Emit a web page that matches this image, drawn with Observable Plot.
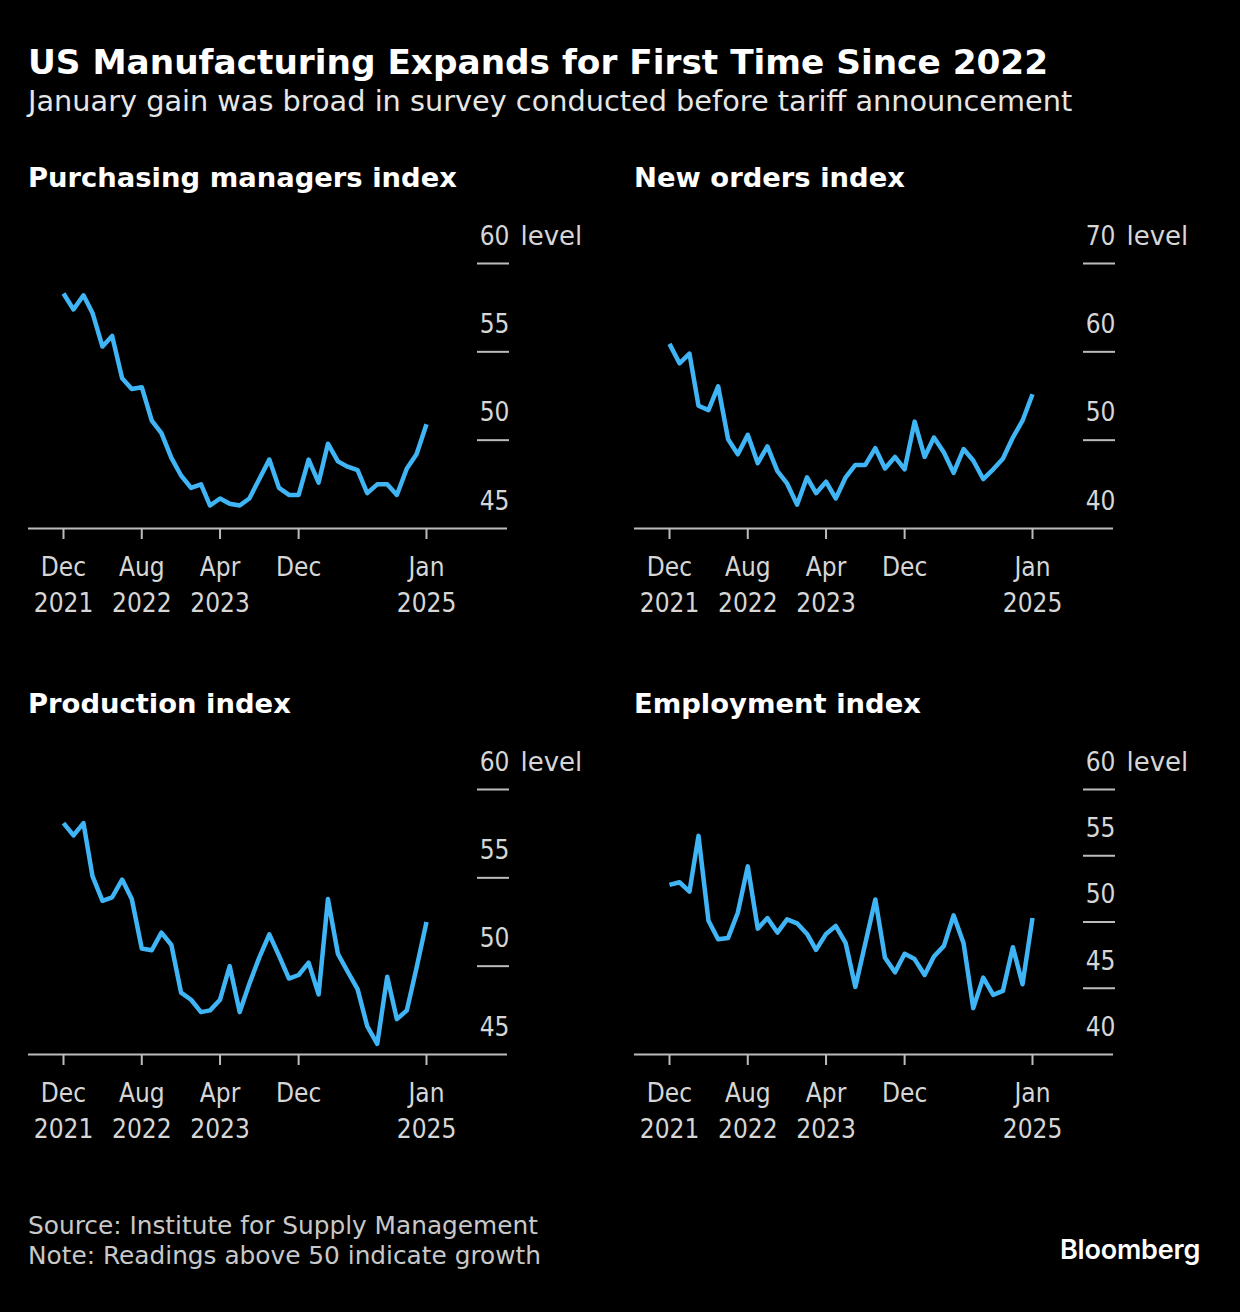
<!DOCTYPE html>
<html>
<head>
<meta charset="utf-8">
<script src="https://cdn.jsdelivr.net/npm/d3@7"></script>
<script src="https://cdn.jsdelivr.net/npm/@observablehq/plot@0.6"></script>
<style>
  html, body { margin: 0; padding: 0; background: #000; }
  #root { position: relative; width: 1240px; height: 1312px; background: #000; overflow: hidden; }
  .t { position: absolute; white-space: nowrap; line-height: 1; font-family: "DejaVu Sans", sans-serif; }
  #title { left: 28px; top: 45px; font-size: 34.3px; font-weight: bold; color: #ffffff; }
  #subtitle { left: 28px; top: 87px; font-size: 28.75px; color: #e6e6e6; }
  .ptitle { font-size: 27.4px; font-weight: bold; color: #ffffff; }
  .foot { font-size: 24.8px; color: #c8c8c8; left: 28px; }
  #logo { left: 1060px; top: 1236px; font-family: Inter, "DejaVu Sans", sans-serif; font-weight: 600; font-size: 27px; color: #ffffff; letter-spacing: -0.2px; }
  .panel { position: absolute; }
</style>
</head>
<body>
<div id="root">
  <div class="t" id="title">US Manufacturing Expands for First Time Since 2022</div>
  <div class="t" id="subtitle">January gain was broad in survey conducted before tariff announcement</div>
  <div class="t foot" style="top:1214px">Source: Institute for Supply Management</div>
  <div class="t foot" style="top:1244px">Note: Readings above 50 indicate growth</div>
  <div class="t" id="logo">Bloomberg</div>
</div>
<script>
// ---- Data ----
const months = d3.utcMonths(new Date(Date.UTC(2021, 11, 1)), new Date(Date.UTC(2025, 1, 1))); // Dec 2021 .. Jan 2025

const pmi = [58.3, 57.4, 58.2, 57.2, 55.3, 55.9, 53.5, 52.9, 53.0, 51.1, 50.4, 49.0, 48.0, 47.3, 47.5, 46.3, 46.7, 46.4, 46.3, 46.7, 47.8, 48.9, 47.3, 46.9, 46.9, 48.9, 47.6, 49.8, 48.8, 48.5, 48.3, 47.0, 47.5, 47.5, 46.9, 48.4, 49.2, 50.9];
const newOrders = [60.9, 58.7, 59.8, 53.9, 53.4, 56.1, 50.1, 48.4, 50.6, 47.4, 49.3, 46.5, 45.1, 42.7, 45.8, 44.0, 45.3, 43.4, 45.8, 47.2, 47.2, 49.1, 46.8, 48.1, 46.7, 52.1, 48.1, 50.3, 48.6, 46.3, 49.0, 47.7, 45.6, 46.7, 47.9, 50.3, 52.2, 55.2];
const production = [58.1, 57.4, 58.1, 55.1, 53.7, 53.9, 54.9, 53.8, 51.0, 50.9, 51.9, 51.2, 48.5, 48.1, 47.4, 47.5, 48.1, 50.0, 47.4, 49.0, 50.5, 51.8, 50.6, 49.3, 49.5, 50.2, 48.4, 53.8, 50.7, 49.7, 48.7, 46.6, 45.6, 49.4, 47.0, 47.5, 49.9, 52.5];
const employment = [52.8, 53.0, 52.3, 56.5, 50.1, 48.7, 48.8, 50.7, 54.2, 49.5, 50.3, 49.2, 50.2, 49.9, 49.1, 47.9, 49.1, 49.7, 48.4, 45.1, 48.4, 51.7, 47.3, 46.2, 47.6, 47.2, 46.0, 47.4, 48.2, 50.5, 48.4, 43.5, 45.8, 44.5, 44.8, 48.1, 45.3, 50.3];

const panelTitles = ["Purchasing managers index", "New orders index", "Production index", "Employment index"];
const panelSeries = [pmi, newOrders, production, employment];
const yTicksPmi = [45, 50, 55, 60];
const yTicksOrders = [40, 50, 60, 70];
const yTicksProduction = [45, 50, 55, 60];
const yTicksEmployment = [40, 45, 50, 55, 60];
const panelYTicks = [yTicksPmi, yTicksOrders, yTicksProduction, yTicksEmployment];
const yUnitLabel = "level";

const xTickDates = [new Date(Date.UTC(2021, 11, 1)), new Date(Date.UTC(2022, 7, 1)), new Date(Date.UTC(2023, 3, 1)), new Date(Date.UTC(2023, 11, 1)), new Date(Date.UTC(2025, 0, 1))];
const xTickLabels = ["Dec\n2021", "Aug\n2022", "Apr\n2023", "Dec", "Jan\n2025"];

// ---- Layout ----
const root = document.getElementById("root");
const lineColor = "#40b5f6";
const axisColor = "#bcbcbc";
const labelColor = "#d6d6d6";
const labelMap = new Map(xTickDates.map((d, i) => [+d, xTickLabels[i]]));

const panelLeft = [0, 606, 0, 606];
const panelTop = [200, 200, 726, 726];

panelSeries.forEach((series, k) => {
  const ticks = panelYTicks[k];
  const yMin = d3.min(ticks), yMax = d3.max(ticks);
  const data = series.map((v, i) => ({date: months[i], value: v}));

  const t = document.createElement("div");
  t.className = "t ptitle";
  t.style.left = (panelLeft[k] + 28) + "px";
  t.style.top = (panelTop[k] - 36) + "px";
  t.textContent = panelTitles[k];
  root.appendChild(t);

  const chart = Plot.plot({
    width: 606,
    height: 420,
    marginTop: 63,
    marginBottom: 92,
    marginLeft: 28,
    marginRight: 99,
    style: {
      background: "transparent",
      color: labelColor,
      fontFamily: "'DejaVu Sans Condensed', sans-serif",
      fontSize: "26px",
      overflow: "visible"
    },
    x: {type: "utc", domain: [months[0], months[months.length - 1]], insetLeft: 35, insetRight: 81, label: null},
    y: {domain: [yMin, yMax], label: null},
    marks: [
      Plot.ruleY(ticks.filter(v => v !== yMin), {y: d => d, insetLeft: 449, insetRight: -2, stroke: axisColor, strokeWidth: 2}),
      Plot.ruleY([yMin], {y: d => d, stroke: axisColor, strokeWidth: 2}),
      Plot.axisX(xTickDates, {
        label: null, tickSize: 11, tickPadding: 12, stroke: axisColor, strokeWidth: 2,
        tickFormat: d => labelMap.get(+d), fontSize: 26, lineHeight: 1.35, fill: labelColor
      }),
      Plot.axisY(ticks, {
        label: null, anchor: "right", tickSize: 0, tickPadding: 2, textAnchor: "end", dy: -27,
        fontSize: 26, fill: labelColor, tickFormat: d => String(d)
      }),
      Plot.text([yMax], {y: d => d, text: () => yUnitLabel, frameAnchor: "right", textAnchor: "start", dx: 13, dy: -27, fontSize: 26, fontFamily: "DejaVu Sans", fill: labelColor}),
      Plot.line(data, {x: "date", y: "value", stroke: lineColor, strokeWidth: 4.5, strokeLinejoin: "round", strokeLinecap: "butt"})
    ]
  });
  const wrap = document.createElement("div");
  wrap.className = "panel";
  wrap.style.left = panelLeft[k] + "px";
  wrap.style.top = panelTop[k] + "px";
  wrap.appendChild(chart);
  root.appendChild(wrap);
});
</script>
</body>
</html>
